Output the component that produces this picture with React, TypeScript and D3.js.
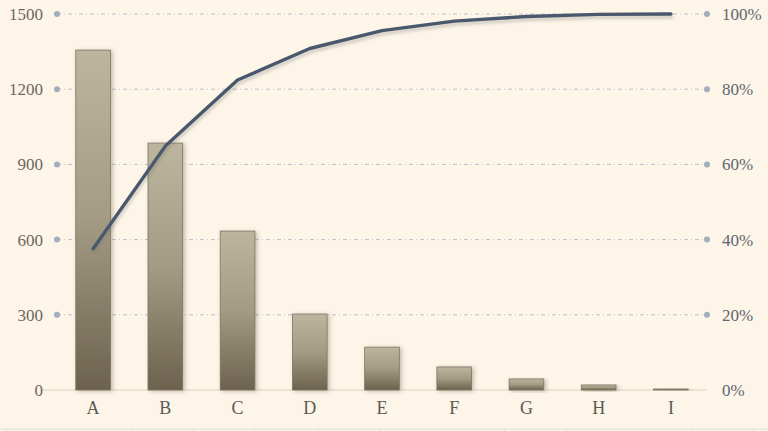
import React from "react";
import * as d3 from "d3";

const categories = ["A", "B", "C", "D", "E", "F", "G", "H", "I"];
const values = [1356, 985, 634, 303, 171, 92, 44, 20, 4];
const leftTicks = [0, 300, 600, 900, 1200, 1500];
const rightTicks = [0, 20, 40, 60, 80, 100];

const W = 768;
const H = 431;
const M = { left: 57, right: 61, top: 14, bottom: 41 };

export default function App() {
  const x = d3
    .scaleBand<string>()
    .domain(categories)
    .range([M.left, W - M.right])
    .paddingInner(0.52)
    .paddingOuter(0.26);
  const y = d3.scaleLinear().domain([0, 1500]).range([H - M.bottom, M.top]);
  const yp = d3.scaleLinear().domain([0, 100]).range([H - M.bottom, M.top]);
  const total = d3.sum(values);
  let acc = 0;
  const cum = values.map((v) => {
    acc += v;
    return (acc / total) * 100;
  });
  const line = d3
    .line<number>()
    .x((_, i) => (x(categories[i]) as number) + x.bandwidth() / 2)
    .y((d) => yp(d));

  const bottomTicks = d3.range(7, W, 62.2);

  return (
    <svg
      width={W}
      height={H}
      style={{ position: "absolute", left: 0, top: 0, background: "#fdf5e8" }}
      fontFamily="'Liberation Serif', 'DejaVu Serif', serif"
    >
      <defs>
        <linearGradient id="barGrad" x1="0" y1="0" x2="0" y2="1">
          <stop offset="0%" stopColor="#bdb69e" />
          <stop offset="50%" stopColor="#a39b83" />
          <stop offset="100%" stopColor="#6c624e" />
        </linearGradient>
        <filter id="barShadow" x="-30%" y="-10%" width="160%" height="130%">
          <feDropShadow dx="2" dy="1" stdDeviation="2" floodColor="#5a4f3c" floodOpacity="0.35" />
        </filter>
        <filter id="lineShadow" x="-10%" y="-10%" width="120%" height="130%">
          <feDropShadow dx="1" dy="3" stdDeviation="1.6" floodColor="#6b6b6b" floodOpacity="0.3" />
        </filter>
      </defs>
      <rect x={0} y={0} width={W} height={H} fill="#fdf5e8" />

      {/* gridlines */}
      {leftTicks.map((t) =>
        t === 0 ? null : (
          <line
            key={"g" + t}
            x1={M.left}
            x2={W - M.right}
            y1={y(t)}
            y2={y(t)}
            stroke="#b9c0ca"
            strokeWidth={1}
            strokeDasharray="4,3,1,3"
          />
        )
      )}
      <line x1={M.left - 14} x2={W - M.right} y1={y(0)} y2={y(0)} stroke="#e6ddcd" strokeWidth={1.5} />

      {/* left axis */}
      {leftTicks.map((t) => (
        <g key={"l" + t}>
          {t !== 0 && <circle cx={M.left} cy={y(t)} r={3} fill="#a3adbd" />}
          <text x={43} y={y(t)} dy="0.35em" textAnchor="end" fontSize={17} fill="#6d675d">
            {t}
          </text>
        </g>
      ))}

      {/* right axis */}
      {rightTicks.map((t) => (
        <g key={"r" + t}>
          {t !== 0 && <circle cx={W - M.right} cy={yp(t)} r={3} fill="#a3adbd" />}
          <text x={722} y={yp(t)} dy="0.35em" textAnchor="start" fontSize={17} fill="#5e6673">
            {t + "%"}
          </text>
        </g>
      ))}

      {/* bars */}
      {values.map((v, i) => (
        <rect
          key={"b" + i}
          x={x(categories[i])}
          y={y(v)}
          width={x.bandwidth()}
          height={y(0) - y(v)}
          fill="url(#barGrad)"
          stroke="#7d7563"
          strokeWidth={0.8}
          filter="url(#barShadow)"
        />
      ))}

      {/* category labels */}
      {categories.map((c) => (
        <text
          key={"c" + c}
          x={(x(c) as number) + x.bandwidth() / 2}
          y={414}
          textAnchor="middle"
          fontSize={18}
          fill="#5c5a57"
        >
          {c}
        </text>
      ))}

      {/* cumulative line */}
      <path
        d={line(cum) || ""}
        fill="none"
        stroke="#4a596c"
        strokeWidth={3.4}
        strokeLinejoin="round"
        strokeLinecap="round"
        filter="url(#lineShadow)"
      />

      {/* bottom strip */}
      <line x1={0} x2={W} y1={429} y2={429} stroke="#e2ddd4" strokeWidth={1} />
      {bottomTicks.map((bx, i) => (
        <line key={"bt" + i} x1={bx} x2={bx} y1={429} y2={431} stroke="#e2ddd4" strokeWidth={1} />
      ))}
    </svg>
  );
}
